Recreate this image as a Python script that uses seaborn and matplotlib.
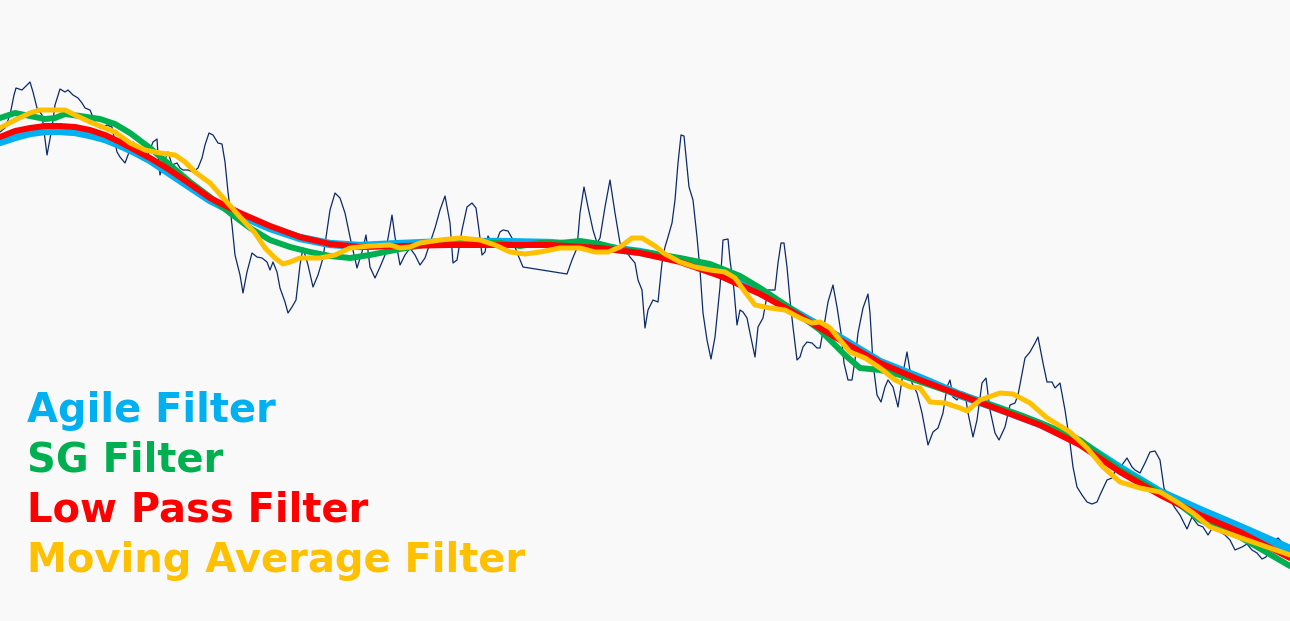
import numpy as np
import matplotlib
matplotlib.use("Agg")
import matplotlib.pyplot as plt
import seaborn as sns

# raw signal (sample position, level); level axis grows downward
raw_t = [0, 5, 10, 14, 16, 22, 25, 30, 33, 37, 42, 47, 52, 55, 60, 65, 68, 73, 78, 82,
         85, 90, 95, 100, 107, 112, 117, 120, 125, 128, 133, 137, 143, 147, 153, 157, 158, 160, 163, 168,
         172, 177, 180, 183, 188, 193, 198, 202, 205, 209, 213, 218, 222, 225, 228, 232, 235, 240, 243, 247,
         252, 257, 262, 267, 270, 273, 277, 280, 285, 288, 292, 296, 300, 303, 308, 313, 318, 323, 330, 335,
         340, 345, 350, 357, 362, 366, 370, 375, 380, 385, 390, 392, 395, 400, 405, 410, 415, 420, 425, 430,
         435, 440, 445, 450, 453, 457, 462, 467, 472, 476, 479, 482, 485, 488, 492, 497, 500, 503, 508, 512,
         515, 518, 523, 567, 572, 577, 580, 584, 588, 593, 597, 600, 605, 610, 615, 620, 625, 630, 635, 638,
         642, 645, 648, 653, 658, 662, 665, 668, 672, 675, 678, 681, 684, 687, 689, 693, 697, 700, 703, 707,
         711, 715, 720, 723, 728, 730, 734, 737, 740, 743, 747, 750, 755, 758, 763, 768, 775, 778, 781, 784,
         787, 790, 793, 797, 800, 803, 807, 812, 817, 820, 825, 828, 833, 837, 841, 844, 848, 852, 855, 858,
         863, 868, 870, 873, 877, 881, 885, 888, 893, 898, 903, 907, 912, 917, 922, 928, 933, 938, 943, 947,
         950, 953, 957, 962, 965, 968, 973, 977, 982, 986, 990, 995, 999, 1005, 1010, 1015, 1018, 1025, 1030, 1035,
         1038, 1043, 1047, 1052, 1055, 1060, 1065, 1070, 1073, 1077, 1082, 1087, 1092, 1097, 1100, 1107, 1112, 1117, 1122, 1127,
         1132, 1135, 1140, 1145, 1150, 1155, 1160, 1164, 1170, 1175, 1180, 1187, 1192, 1198, 1203, 1208, 1213, 1220, 1225, 1230,
         1235, 1242, 1247, 1252, 1257, 1262, 1266, 1272, 1278, 1283, 1290]
raw_v = [132, 128, 115, 95, 88, 90, 87, 82, 92, 108, 115, 155, 128, 105, 89, 92, 90, 95, 98, 103,
         108, 110, 122, 128, 125, 127, 152, 157, 163, 155, 142, 147, 160, 157, 142, 139, 155, 175, 165, 152,
         165, 163, 168, 170, 170, 172, 168, 158, 145, 133, 135, 143, 144, 162, 192, 225, 255, 275, 293, 272,
         253, 257, 258, 262, 270, 262, 272, 288, 302, 313, 307, 300, 265, 248, 265, 287, 275, 258, 210, 193,
         198, 213, 237, 268, 252, 235, 267, 278, 267, 255, 227, 215, 237, 265, 255, 248, 255, 265, 258, 243,
         228, 210, 196, 223, 263, 260, 230, 207, 203, 208, 230, 255, 252, 236, 243, 240, 232, 230, 231, 238,
         247, 255, 267, 274, 260, 248, 213, 187, 207, 230, 243, 238, 207, 180, 213, 243, 250, 257, 263, 280,
         290, 328, 310, 300, 302, 263, 247, 237, 223, 200, 163, 135, 136, 167, 187, 200, 237, 270, 313, 340,
         359, 337, 287, 240, 239, 260, 290, 325, 310, 312, 318, 333, 357, 327, 318, 290, 290, 263, 243, 243,
         267, 300, 327, 360, 357, 347, 342, 343, 348, 348, 320, 302, 285, 307, 333, 363, 380, 380, 360, 333,
         308, 294, 313, 363, 395, 402, 387, 380, 387, 407, 373, 352, 383, 393, 413, 445, 432, 428, 413, 387,
         380, 397, 400, 392, 393, 413, 437, 420, 383, 378, 410, 433, 440, 427, 405, 403, 395, 358, 352, 343,
         337, 363, 382, 382, 388, 383, 410, 443, 467, 487, 495, 502, 504, 502, 495, 480, 478, 467, 465, 458,
         467, 470, 473, 463, 452, 451, 460, 488, 500, 508, 515, 529, 517, 525, 527, 535, 527, 532, 535, 540,
         550, 547, 544, 550, 553, 559, 557, 543, 538, 543, 550]

agile_t = [0, 15, 30, 45, 60, 75, 90, 105, 120, 135, 150, 165, 180, 210, 240, 270, 300, 330, 360, 400,
           450, 500, 550, 600, 640, 680, 720, 760, 800, 840, 880, 920, 960, 1000, 1040, 1080, 1120, 1160, 1200, 1240,
           1290]
agile_v = [142, 137, 133, 131, 131, 132, 135, 139, 145, 152, 160, 170, 180, 200, 215, 228, 238, 244, 246, 244,
           242, 242, 243, 247, 252, 260, 272, 292, 315, 338, 362, 378, 395, 409, 424, 442, 468, 492, 510, 527,
           549]

sg_t = [0, 15, 30, 45, 55, 65, 80, 100, 115, 130, 150, 170, 190, 210, 230, 250, 270, 290, 310, 330,
        350, 370, 400, 430, 460, 500, 520, 540, 560, 580, 600, 620, 650, 680, 710, 740, 760, 790, 820, 845,
        860, 880, 900, 930, 960, 990, 1020, 1050, 1080, 1100, 1120, 1150, 1180, 1200, 1240, 1290]
sg_v = [118, 113, 116, 119, 118, 114, 116, 119, 124, 133, 148, 165, 182, 197, 213, 228, 240, 247, 252, 256,
        258, 255, 249, 244, 242, 243, 246, 243, 243, 241, 244, 249, 253, 258, 264, 276, 288, 308, 330, 355,
        368, 370, 375, 385, 395, 405, 415, 427, 440, 455, 470, 487, 505, 520, 537, 566]

lowpass_t = [0, 15, 30, 45, 60, 75, 90, 105, 120, 135, 150, 165, 180, 210, 240, 270, 300, 330, 360, 400,
             450, 500, 550, 600, 640, 680, 720, 760, 800, 840, 880, 920, 960, 1000, 1040, 1080, 1120, 1160, 1200, 1240,
             1290]
lowpass_v = [137, 131, 128, 126, 126, 127, 130, 135, 142, 150, 158, 167, 177, 198, 213, 226, 237, 244, 247, 246,
             245, 245, 245, 248, 253, 262, 276, 294, 316, 340, 363, 380, 395, 410, 425, 445, 472, 495, 515, 532,
             558]

movavg_t = [0, 15, 30, 40, 55, 65, 75, 90, 105, 115, 130, 145, 160, 175, 185, 195, 210, 225, 240, 255,
            265, 275, 283, 290, 300, 320, 335, 350, 370, 390, 400, 410, 420, 440, 460, 480, 495, 510, 525, 540,
            560, 580, 595, 608, 620, 632, 642, 655, 665, 680, 695, 710, 725, 735, 745, 755, 770, 785, 800, 812,
            820, 830, 840, 850, 865, 880, 895, 910, 920, 930, 945, 960, 967, 980, 1000, 1013, 1030, 1047, 1070, 1087,
            1103, 1120, 1140, 1160, 1177, 1193, 1210, 1227, 1247, 1267, 1290]
movavg_v = [128, 120, 113, 110, 110, 110, 115, 122, 128, 132, 143, 150, 153, 155, 162, 172, 183, 200, 217, 233,
            248, 258, 264, 262, 258, 258, 255, 248, 246, 245, 248, 247, 243, 240, 238, 240, 245, 252, 254, 252,
            248, 248, 252, 252, 247, 238, 238, 246, 254, 262, 267, 270, 272, 278, 292, 305, 308, 310, 318, 323,
            322, 328, 340, 352, 358, 368, 380, 387, 388, 402, 403, 408, 411, 400, 393, 394, 403, 418, 432, 448,
            467, 482, 488, 492, 502, 513, 527, 533, 540, 547, 555]

legend_names = ["Agile Filter", "SG Filter", "Low Pass Filter", "Moving Average Filter"]
legend_colors = ["#00b0f0", "#00b050", "#ff0000", "#ffc000"]

sns.set_theme(style="white")
plt.rcParams["font.family"] = ["DejaVu Sans"]

fig = plt.figure(figsize=(12.9, 6.21), dpi=100, facecolor="#f9f9f9")
ax = fig.add_axes([0, 0, 1, 1])
ax.set_facecolor("#f9f9f9")

smooth = dict(sort=False, solid_joinstyle="round", solid_capstyle="round", ax=ax)
sns.lineplot(x=raw_t, y=raw_v, sort=False, color="#0b2a6b", linewidth=0.9, ax=ax)
sns.lineplot(x=agile_t, y=agile_v, color=legend_colors[0], linewidth=6.0, **smooth)
sns.lineplot(x=sg_t, y=sg_v, color=legend_colors[1], linewidth=4.3, **smooth)
sns.lineplot(x=lowpass_t, y=lowpass_v, color=legend_colors[2], linewidth=4.3, **smooth)
sns.lineplot(x=movavg_t, y=movavg_v, color=legend_colors[3], linewidth=3.6, **smooth)

ax.set_xlim(0, 1290)
ax.set_ylim(621, 0)
ax.axis("off")

# legend written as coloured labels, one per line
for i, (name, col) in enumerate(zip(legend_names, legend_colors)):
    ax.text(0.021, 1 - (422 + 50 * i) / 621, name, transform=ax.transAxes,
            color=col, fontsize=28.8, fontweight="bold", va="baseline", ha="left")

fig.savefig("out.png", dpi=100, facecolor=fig.get_facecolor())
plt.close(fig)
